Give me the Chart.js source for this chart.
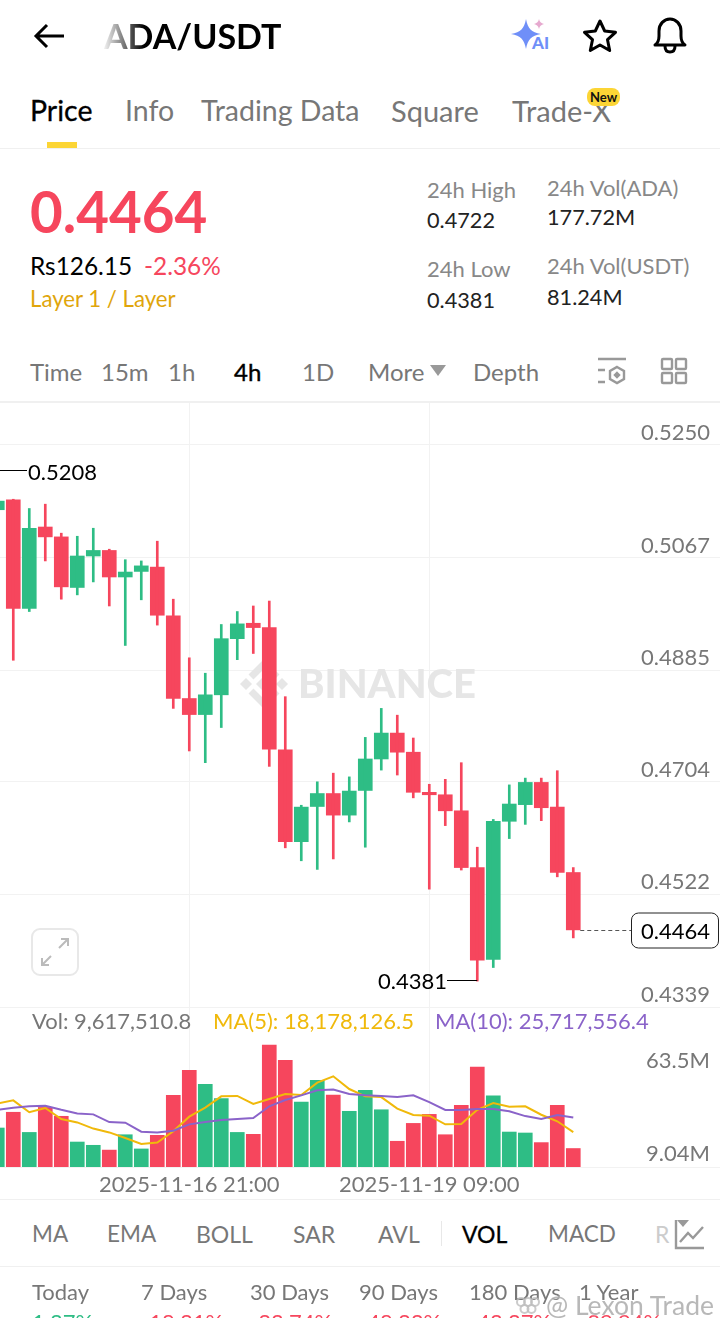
<!DOCTYPE html>
<html>
<head>
<meta charset="utf-8">
<title>ADA/USDT</title>
<script src="https://cdn.jsdelivr.net/npm/chart.js@4"></script>
<style>
  html, body { margin: 0; padding: 0; background: #fff; }
  body { position: relative; width: 720px; height: 1330px; overflow: hidden; font-family: Lato, sans-serif; color: #777; }
  .t { position: absolute; transform: translateY(-50%); white-space: nowrap; line-height: 1; }
  .line { position: absolute; left: 0; width: 720px; background: #f0f0f0; }
  .ic { position: absolute; }
  canvas { position: absolute; left: 0; display: block; }
  .bottomclip { position: absolute; left: 0; top: 0; width: 720px; height: 1318px; overflow: hidden; }
</style>
</head>
<body>

<!-- header -->
<svg class="ic" style="left:32px;top:20px" width="36" height="32" viewBox="0 0 36 32" fill="none" stroke="#000" stroke-width="3"><path d="M32 16H4M15 5L4 16l11 11"/></svg>
<div class="t" style="left:104px;top:36px;font-size:34px;font-weight:700;color:#000;-webkit-mask-image:linear-gradient(90deg,rgba(0,0,0,.05) 0,#000 40px)">ADA/USDT</div>
<svg class="ic" style="left:510px;top:17px" width="42" height="36" viewBox="0 0 42 36"><path d="M15 2c2 10 5 13 15 15-10 2-13 5-15 15-2-10-5-13-15-15 10-2 13-5 15-15z" fill="#6f8ff8" transform="translate(1 0)"/><path d="M29 2c.7 3 2 4.300 5 5-3 .7-4.300 2-5 5-.7-3-2-4.300-5-5 3-.7 4.300-2 5-5z" fill="#e6a9cf"/><text x="22" y="32" font-family="Lato" font-weight="900" font-size="17" fill="#6f8ff8">AI</text></svg>
<svg class="ic" style="left:582px;top:18px" width="36" height="36" viewBox="0 0 36 36" fill="none" stroke="#000" stroke-width="3" stroke-linejoin="round"><path d="M18 3l4.700 10 10.800 1.300-8 7.400 2.200 10.800L18 27l-9.700 5.500 2.200-10.800-8-7.400L13.300 13z"/></svg>
<svg class="ic" style="left:652px;top:16px" width="36" height="38" viewBox="0 0 36 38" fill="none" stroke="#000" stroke-width="3" stroke-linejoin="round"><path d="M3 29c3-2 4-5 4-9v-5C7 8 12 3 18 3s11 5 11 12v5c0 4 1 7 4 9z"/><path d="M13 30c0 4 2 6 5 6s5-2 5-6"/></svg>

<div class="t" style="left:30px;top:110px;font-size:28.500px;color:#000;-webkit-text-stroke:.3px #000">Price</div>
<div class="t" style="left:125px;top:110px;font-size:28.500px">Info</div>
<div class="t" style="left:201px;top:110px;font-size:28.500px">Trading Data</div>
<div class="t" style="left:391px;top:110px;font-size:29px">Square</div>
<div class="t" style="left:512px;top:110px;font-size:29px">Trade-X</div>
<div class="ic" style="left:587px;top:88px;width:33px;height:18px;border-radius:8px;background:#fcd535"></div>
<div class="t" style="left:590px;top:97px;font-size:13px;font-weight:700;color:#111">New</div>
<div class="ic" style="left:47px;top:142px;width:30px;height:6px;background:#fcd535"></div>
<div class="line" style="top:148px;height:1px"></div>

<!-- price block -->
<div class="t" style="left:30px;top:211px;font-size:56.500px;font-weight:700;color:#f6465d">0.4464</div>
<div class="t" style="left:30px;top:266px;font-size:24.400px;color:#000">Rs126.15</div>
<div class="t" style="left:144px;top:266px;font-size:24.400px;color:#f6465d">-2.36%</div>
<div class="t" style="left:30px;top:299px;font-size:22.200px;color:#e0a50b">Layer 1 / Layer</div>
<div class="t" style="left:427px;top:190px;font-size:22px;color:#888">24h High</div>
<div class="t" style="left:427px;top:221px;font-size:21.700px;color:#222">0.4722</div>
<div class="t" style="left:547px;top:188px;font-size:22px;color:#888">24h Vol(ADA)</div>
<div class="t" style="left:547px;top:218px;font-size:21.700px;color:#222">177.72M</div>
<div class="t" style="left:427px;top:269px;font-size:22px;color:#888">24h Low</div>
<div class="t" style="left:427px;top:301px;font-size:21.700px;color:#222">0.4381</div>
<div class="t" style="left:547px;top:266px;font-size:22px;color:#888">24h Vol(USDT)</div>
<div class="t" style="left:547px;top:298px;font-size:21.700px;color:#222">81.24M</div>

<!-- interval row -->
<div class="t" style="left:30px;top:372px;font-size:24px">Time</div>
<div class="t" style="left:101px;top:372px;font-size:24px">15m</div>
<div class="t" style="left:168px;top:372px;font-size:24px">1h</div>
<div class="t" style="left:234px;top:372px;font-size:24px;color:#000;-webkit-text-stroke:.4px #000">4h</div>
<div class="t" style="left:302px;top:372px;font-size:24px">1D</div>
<div class="t" style="left:368px;top:372px;font-size:24px">More</div>
<svg class="ic" style="left:430px;top:365px" width="16" height="12"><path d="M0 0h16L8 11z" fill="#999"/></svg>
<div class="t" style="left:473px;top:372px;font-size:24px">Depth</div>
<svg class="ic" style="left:597px;top:356px" width="30" height="30" viewBox="0 0 30 30" fill="none" stroke="#999" stroke-width="2.400"><path d="M1 3h28M1 14h7M1 26h7M20 11l7 4v8l-7 4-7-4v-8z"/><path d="M20 17l2 2-2 2-2-2z" fill="#999"/></svg>
<svg class="ic" style="left:660px;top:357px" width="28" height="28" viewBox="0 0 28 28" fill="none" stroke="#999" stroke-width="2.400"><rect x="2" y="2" width="10" height="10" rx="1"/><rect x="16" y="2" width="10" height="10" rx="1"/><rect x="2" y="16" width="10" height="10" rx="1"/><rect x="16" y="16" width="10" height="10" rx="1"/></svg>
<div class="line" style="top:401px;height:2px"></div>

<!-- charts -->
<canvas id="priceChart" width="720" height="606" style="top:403px"></canvas>
<canvas id="volChart" width="720" height="193" style="top:1007px"></canvas>

<svg class="ic" style="left:31px;top:928px" width="48" height="48" viewBox="0 0 48 48" fill="#fff" stroke="#e8e8e8" stroke-width="2"><rect x="1" y="1" width="46" height="46" rx="8"/><path d="M28 20l9-9M30 11h7v7M20 28l-9 9M11 30v7h7" fill="none" stroke="#bbb"/></svg>

<div class="t" style="left:32px;top:1021px;font-size:22px">Vol: 9,617,510.8</div>
<div class="t" style="left:213px;top:1021px;font-size:22px;color:#f0b90b">MA(5): 18,178,126.5</div>
<div class="t" style="left:435px;top:1021px;font-size:22px;color:#8a63c9">MA(10): 25,717,556.4</div>
<div class="line" style="top:1199px;height:1px"></div>

<!-- indicator tabs -->
<div class="t" style="left:32px;top:1234px;font-size:22.500px">MA</div>
<div class="t" style="left:107px;top:1234px;font-size:22.500px">EMA</div>
<div class="t" style="left:196px;top:1234px;font-size:23px">BOLL</div>
<div class="t" style="left:293px;top:1234px;font-size:23px">SAR</div>
<div class="t" style="left:378px;top:1234px;font-size:23px">AVL</div>
<div class="ic" style="left:441px;top:1221px;width:1px;height:25px;background:#e8e8e8"></div>
<div class="t" style="left:462px;top:1234px;font-size:23px;color:#000;-webkit-text-stroke:.3px #000">VOL</div>
<div class="t" style="left:548px;top:1234px;font-size:22.500px">MACD</div>
<div class="t" style="left:655px;top:1234px;font-size:23px;color:#ccc">R</div>
<svg class="ic" style="left:674px;top:1218px" width="32" height="32" viewBox="0 0 32 32" fill="none" stroke="#999" stroke-width="2.400"><path d="M2 2v28h28M6 24l8-9 5 5 10-11"/><path d="M3 2h12l-6 7z" fill="#999" stroke="none"/></svg>
<div class="line" style="top:1266px;height:1px"></div>

<!-- period returns, cut off by the bottom of the screenshot -->
<div class="bottomclip">
  <div class="t" style="left:32px;top:1292px;font-size:22px">Today</div>
  <div class="t" style="left:141px;top:1292px;font-size:22px">7 Days</div>
  <div class="t" style="left:250px;top:1292px;font-size:22px">30 Days</div>
  <div class="t" style="left:359px;top:1292px;font-size:22px">90 Days</div>
  <div class="t" style="left:469px;top:1292px;font-size:22px">180 Days</div>
  <div class="t" style="left:579px;top:1292px;font-size:22px">1 Year</div>
  <div class="t" style="left:32px;top:1322px;font-size:22px;color:#2ebd85">1.27%</div>
  <div class="t" style="left:141px;top:1322px;font-size:22px;color:#f6465d">-18.31%</div>
  <div class="t" style="left:250px;top:1322px;font-size:22px;color:#f6465d">-32.74%</div>
  <div class="t" style="left:359px;top:1322px;font-size:22px;color:#f6465d">-48.33%</div>
  <div class="t" style="left:469px;top:1322px;font-size:22px;color:#f6465d">-42.27%</div>
  <div class="t" style="left:579px;top:1322px;font-size:22px;color:#f6465d">-39.94%</div>
</div>
<svg class="ic" style="left:514px;top:1295px" width="28" height="22" viewBox="0 0 28 22" fill="none" stroke="rgba(190,190,190,.8)" stroke-width="2"><circle cx="7" cy="7" r="4"/><circle cx="14" cy="7" r="4"/><circle cx="21" cy="7" r="4"/><circle cx="10.500" cy="14" r="4"/><circle cx="17.500" cy="14" r="4"/></svg>
<div class="t" style="left:546px;top:1305px;font-size:26.500px;color:rgba(160,160,160,.75);text-shadow:0 0 2px #fff">@ Lexon Trade</div>

<script>
// candles, oldest first (first one is cut by the left edge)
const opens =  [0.5145, 0.5161, 0.4985, 0.5117, 0.5101, 0.5019, 0.5070, 0.5079, 0.5036, 0.5045, 0.5052, 0.4973, 0.4839, 0.4813, 0.4845, 0.4936, 0.4961, 0.4954, 0.4756, 0.4607, 0.4664, 0.4685, 0.4650, 0.4690, 0.4741, 0.4783, 0.4752, 0.4687, 0.4683, 0.4657, 0.4565, 0.4416, 0.4640, 0.4667, 0.4703, 0.4663, 0.4557];
const highs =  [0.5161, 0.5162, 0.5147, 0.5154, 0.5107, 0.5102, 0.5115, 0.5081, 0.5064, 0.5062, 0.5094, 0.5000, 0.4905, 0.4880, 0.4959, 0.4980, 0.4989, 0.4997, 0.4842, 0.4666, 0.4704, 0.4718, 0.4712, 0.4776, 0.4823, 0.4812, 0.4775, 0.4700, 0.4708, 0.4735, 0.4598, 0.4643, 0.4699, 0.4710, 0.4710, 0.4722, 0.4565];
const lows =   [0.5141, 0.4901, 0.4980, 0.5062, 0.5000, 0.5007, 0.5028, 0.4989, 0.4925, 0.4999, 0.4958, 0.4823, 0.4754, 0.4735, 0.4792, 0.4902, 0.4912, 0.4729, 0.4597, 0.4576, 0.4562, 0.4579, 0.4639, 0.4598, 0.4723, 0.4715, 0.4678, 0.4530, 0.4633, 0.4561, 0.4381, 0.4403, 0.4612, 0.4635, 0.4641, 0.4550, 0.4451];
const closes = [0.5159, 0.4985, 0.5115, 0.5101, 0.5020, 0.5070, 0.5079, 0.5036, 0.5044, 0.5054, 0.4974, 0.4839, 0.4813, 0.4845, 0.4936, 0.4960, 0.4954, 0.4757, 0.4607, 0.4663, 0.4685, 0.4650, 0.4689, 0.4741, 0.4783, 0.4752, 0.4687, 0.4683, 0.4657, 0.4565, 0.4415, 0.4640, 0.4668, 0.4703, 0.4662, 0.4557, 0.4464];

// volume and its moving averages, in millions
const volumes = [20.3, 28.5, 18.0, 31.0, 26.4, 13.0, 11.3, 8.8, 16.8, 9.4, 16.5, 37.3, 50.3, 43.0, 35.6, 18.0, 17.0, 63.5, 55.5, 33.8, 45.1, 37.5, 29.0, 39.9, 29.8, 13.4, 22.7, 27.4, 16.8, 32.1, 52.0, 37.1, 18.2, 17.7, 12.7, 32.1, 9.62];
const ma5 =  [33.0, 34.7, 28.5, 30.7, 25.0, 23.2, 20.0, 18.0, 15.1, 12.0, 12.7, 18.6, 26.2, 30.9, 36.8, 37.0, 32.8, 35.4, 38.0, 37.5, 43.9, 47.2, 40.6, 36.8, 36.4, 30.4, 27.1, 26.7, 22.2, 22.4, 29.8, 33.3, 31.4, 31.6, 27.2, 23.8, 18.18];
const ma10 = [29.7, 30.9, 31.6, 31.9, 29.8, 27.9, 27.4, 23.4, 23.1, 18.4, 18.0, 18.9, 22.2, 23.4, 24.5, 25.0, 25.5, 31.6, 34.9, 37.3, 39.9, 40.3, 38.0, 37.3, 37.0, 36.4, 37.3, 33.8, 29.7, 29.7, 30.2, 30.2, 29.0, 26.5, 25.0, 27.1, 25.72];

const priceTicks = [0.5250, 0.5067, 0.4885, 0.4704, 0.4522, 0.4339];
const volTicks = [55.2, 6.8];
const volTickLabels = ['63.5M', '9.04M'];
const timeTickIndex = [12, 27];
const timeTickLabels = ['2025-11-16 21:00', '2025-11-19 09:00'];

const highestShown = 0.5208;
const lowestShown = 0.4381;
const lowestIndex = 30;
const lastPrice = 0.4464;

const RED = '#f6465d';
const GREEN = '#2ebd85';
const GRID = '#f2f2f2';
const FONT = 'Lato, sans-serif';

const candleColors = opens.map((o, i) => closes[i] >= o ? GREEN : RED);
const zeroSizes = s => {
    s.paddingTop = 0; s.paddingBottom = 0; s.paddingLeft = 0; s.paddingRight = 0;
};

function diamond(ctx, x, y, r) {
    ctx.beginPath();
    ctx.moveTo(x, y - r); ctx.lineTo(x + r, y); ctx.lineTo(x, y + r); ctx.lineTo(x - r, y);
    ctx.closePath();
    ctx.fill();
}

// watermark sits behind the candles
const watermark = {
    id: 'watermark',
    beforeDatasetsDraw(chart) {
        const ctx = chart.ctx;
        ctx.save();
        ctx.fillStyle = '#e6e6e6';
        ctx.strokeStyle = '#e6e6e6';
        ctx.lineWidth = 7;
        diamond(ctx, 264, 281, 8);
        diamond(ctx, 246, 281, 6);
        diamond(ctx, 282, 281, 6);
        ctx.beginPath();
        ctx.moveTo(251, 274); ctx.lineTo(264, 261); ctx.lineTo(277, 274);
        ctx.moveTo(251, 288); ctx.lineTo(264, 301); ctx.lineTo(277, 288);
        ctx.stroke();
        ctx.font = '900 40px ' + FONT;
        ctx.textBaseline = 'middle';
        ctx.fillText('BINANCE', 298, 282);
        ctx.restore();
    }
};

// high / low labels and the last price box
const priceMarks = {
    id: 'priceMarks',
    afterDatasetsDraw(chart) {
        const ctx = chart.ctx;
        const x = chart.scales.x, y = chart.scales.y;
        ctx.save();
        ctx.font = '22px ' + FONT;
        ctx.textBaseline = 'middle';
        ctx.fillStyle = '#000';
        ctx.strokeStyle = '#000';
        ctx.lineWidth = 1;

        const hy = Math.round(y.getPixelForValue(highestShown)) - 0.5;
        ctx.beginPath(); ctx.moveTo(0, hy); ctx.lineTo(27, hy); ctx.stroke();
        ctx.fillText(highestShown.toFixed(4), 28, hy + 2);

        const ly = Math.round(y.getPixelForValue(lowestShown)) - 0.5;
        ctx.beginPath(); ctx.moveTo(x.getPixelForValue(lowestIndex), ly); ctx.lineTo(447, ly); ctx.stroke();
        ctx.textAlign = 'right';
        ctx.fillText(lowestShown.toFixed(4), 447, ly + 1);

        const py = Math.round(y.getPixelForValue(lastPrice)) + 0.5;
        ctx.strokeStyle = '#555';
        ctx.setLineDash([4, 3]);
        ctx.beginPath(); ctx.moveTo(x.getPixelForValue(opens.length - 1) + 7, py); ctx.lineTo(632, py); ctx.stroke();
        ctx.setLineDash([]);
        ctx.strokeStyle = '#222';
        ctx.fillStyle = '#fff';
        ctx.beginPath(); ctx.roundRect(631.5, py - 17.5, 87, 35, 7); ctx.fill(); ctx.stroke();
        ctx.fillStyle = '#000';
        ctx.textAlign = 'left';
        ctx.fillText(lastPrice.toFixed(4), 641, py + 1);
        ctx.restore();
    }
};

const xScale = showLabels => ({
    type: 'linear',
    min: 0.17,
    max: 45.17,
    offset: false,
    grid: { color: GRID, offset: false, drawTicks: false },
    border: { display: showLabels, color: GRID },
    afterBuildTicks: s => { s.ticks = timeTickIndex.map(v => ({ value: v })); },
    afterFit: s => { s.height = showLabels ? 33 : 0; zeroSizes(s); },
    ticks: {
        display: showLabels,
        autoSkip: false,
        maxRotation: 0,
        padding: 5,
        color: '#777',
        font: { family: FONT, size: 22 },
        callback: v => timeTickLabels[timeTickIndex.indexOf(v)]
    }
});

new Chart(document.getElementById('priceChart'), {
    type: 'bar',
    data: {
        datasets: [{
            data: highs.map((h, i) => ({ x: i, y: [lows[i], h] })),
            backgroundColor: candleColors,
            barThickness: 2,
            grouped: false
        }, {
            data: opens.map((o, i) => ({ x: i, y: [o, closes[i]] })),
            backgroundColor: candleColors,
            barThickness: 14,
            grouped: false
        }]
    },
    options: {
        responsive: false,
        animation: false,
        layout: { padding: { bottom: 2 } },
        plugins: { legend: { display: false }, tooltip: { enabled: false } },
        scales: {
            x: xScale(false),
            y: {
                position: 'right',
                min: 0.4339,
                max: 0.5318,
                grid: { color: GRID, drawTicks: false },
                border: { display: false },
                afterBuildTicks: s => { s.ticks = priceTicks.map(v => ({ value: v })); },
                afterFit: s => { s.width = 0; zeroSizes(s); },
                ticks: {
                    mirror: true,
                    padding: -10,
                    labelOffset: -12,
                    color: '#777',
                    font: { family: FONT, size: 22 },
                    callback: v => v.toFixed(4)
                }
            }
        }
    },
    plugins: [watermark, priceMarks]
});

new Chart(document.getElementById('volChart'), {
    type: 'bar',
    data: {
        datasets: [{
            type: 'line',
            data: ma10.map((v, i) => ({ x: i, y: v })),
            borderColor: '#8a63c9',
            borderWidth: 2,
            pointRadius: 0
        }, {
            type: 'line',
            data: ma5.map((v, i) => ({ x: i, y: v })),
            borderColor: '#f0b90b',
            borderWidth: 2,
            pointRadius: 0
        }, {
            data: volumes.map((v, i) => ({ x: i, y: v })),
            backgroundColor: candleColors,
            barThickness: 14
        }]
    },
    options: {
        responsive: false,
        animation: false,
        layout: { padding: 0 },
        plugins: { legend: { display: false }, tooltip: { enabled: false } },
        scales: {
            x: xScale(true),
            y: {
                position: 'right',
                min: 0,
                max: 83.3,
                grid: { display: false },
                border: { display: false },
                afterBuildTicks: s => { s.ticks = volTicks.map(v => ({ value: v })); },
                afterFit: s => { s.width = 0; zeroSizes(s); },
                ticks: {
                    mirror: true,
                    padding: -10,
                    color: '#777',
                    font: { family: FONT, size: 22 },
                    callback: v => volTickLabels[volTicks.indexOf(v)]
                }
            }
        }
    }
});
</script>
</body>
</html>
